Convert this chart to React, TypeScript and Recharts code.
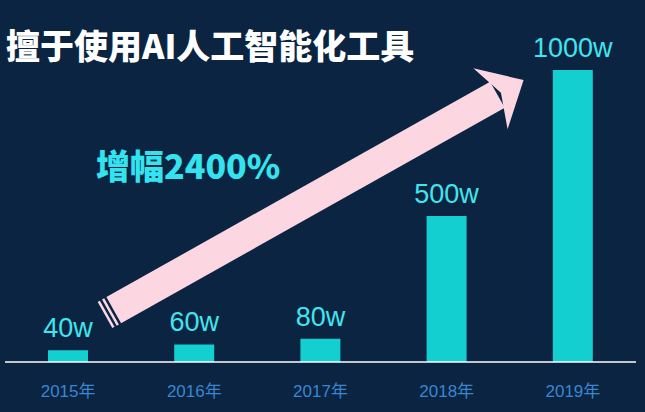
import { BarChart, Bar, XAxis, YAxis, LabelList } from 'recharts';

const years = ['2015年', '2016年', '2017年', '2018年', '2019年'];
const users = [40, 60, 80, 500, 1000];

const data = years.map((year, i) => ({ year, users: users[i] }));

const FONT = "'Liberation Sans', Arial, 'Noto Sans CJK SC', sans-serif";
const CJK_BOLD = "'Noto Sans CJK SC', 'Liberation Sans', sans-serif";

export default function App() {
  return (
    <div style={{ position: 'relative', width: 645, height: 412, background: '#0a2441', overflow: 'hidden' }}>
      <style>{`body{margin:0}`}</style>
      <BarChart width={645} height={412} data={data} margin={{ top: 70, right: 9, left: 5, bottom: 0 }}>
        <XAxis
          dataKey="year"
          height={50}
          axisLine={{ stroke: '#ffffff', strokeWidth: 1.5 }}
          tickLine={false}
          tickMargin={17}
          tick={{ fill: '#3a86d2', fontSize: 17, fontFamily: FONT }}
        />
        <YAxis hide domain={[0, 1000]} />
        <Bar dataKey="users" fill="#14cfcf" barSize={40} isAnimationActive={false}>
          <LabelList
            dataKey="users"
            position="top"
            offset={13}
            formatter={(v: number) => `${v}w`}
            style={{ fill: '#42e4ee', fontSize: 27, fontFamily: FONT }}
          />
        </Bar>
      </BarChart>

      {/* growth arrow */}
      <svg width={645} height={412} style={{ position: 'absolute', left: 0, top: 0, pointerEvents: 'none' }}>
        <g transform="translate(105,315) rotate(-29.3)">
          <rect x={0} y={-15} width={2.5} height={30} fill="#fcd6e1" />
          <rect x={5} y={-15} width={2.5} height={30} fill="#fcd6e1" />
          <rect x={10} y={-15} width={440} height={30} fill="#fcd6e1" />
          <polygon points="442,-35 480,0 442,35 454,0" fill="#fcd6e1" />
        </g>
      </svg>

      <div style={{ position: 'absolute', left: 6, top: 22, color: '#ffffff', fontFamily: CJK_BOLD, fontWeight: 900, fontSize: 34, lineHeight: '46px', whiteSpace: 'nowrap' }}>
        擅于使用AI人工智能化工具
      </div>
      <div style={{ position: 'absolute', left: 96, top: 143, color: '#33e4f0', fontFamily: CJK_BOLD, fontWeight: 900, fontSize: 34, lineHeight: '44px', whiteSpace: 'nowrap' }}>
        增幅2400%
      </div>
    </div>
  );
}
